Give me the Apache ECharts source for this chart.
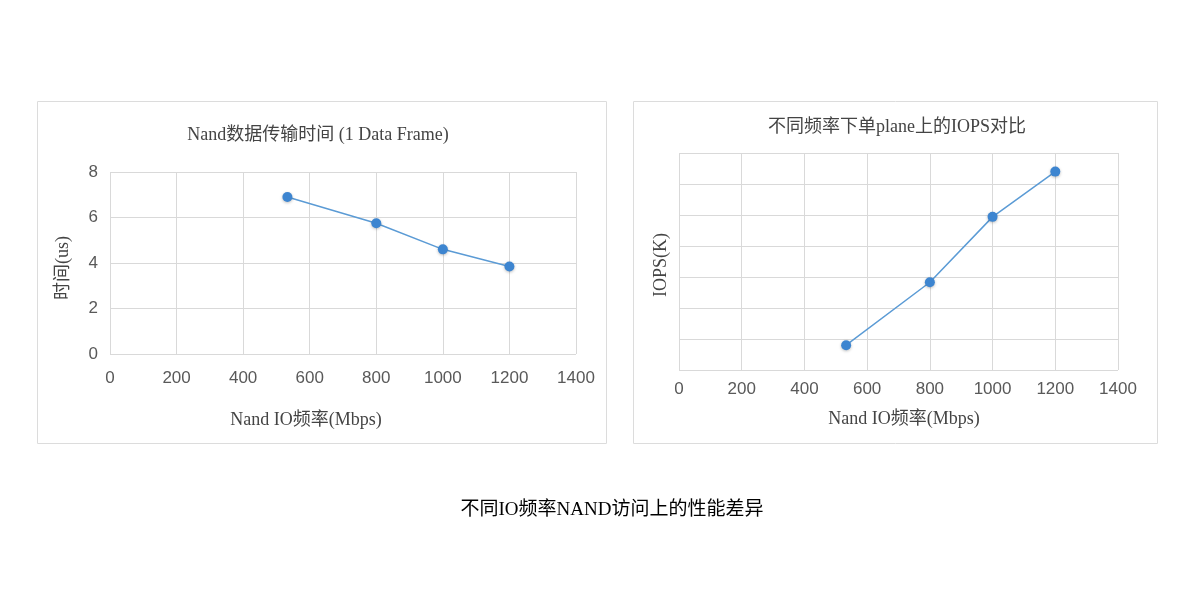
<!DOCTYPE html>
<html><head><meta charset="utf-8">
<script src="https://cdn.jsdelivr.net/npm/echarts@6/dist/echarts.min.js"></script>
<style>html,body{margin:0;padding:0;background:#fff}#c{width:1200px;height:590px}</style>
</head><body><div id="c"></div>
<script>
const freqs = [533, 800, 1000, 1200];
const timeUs = [6.9, 5.75, 4.6, 3.85];
const iopsK = [0.8, 2.83, 4.94, 6.4];
const xTicks = [0, 200, 400, 600, 800, 1000, 1200, 1400];
const leftTitle = 'Nand数据传输时间 (1 Data Frame)';
const rightTitle = '不同频率下单plane上的IOPS对比';
const xName = 'Nand IO频率(Mbps)';
const leftYName = '时间(us)';
const rightYName = 'IOPS(K)';
const caption = '不同IO频率NAND访问上的性能差异';

const serif = '"Liberation Serif", "Noto Sans CJK SC", serif';
const sans = '"Liberation Sans", Arial, sans-serif';
const gridColor = '#d9d9d9';
const lineColor = '#5b9bd5';
const dotColor = '#3d85d0';
const textGray = '#444';

const chart = echarts.init(document.getElementById('c'));
function xAxis(gridIndex, labelMargin) {
  return {
    gridIndex, type: 'value', min: 0, max: 1400, interval: 200,
    axisLine: { show: false }, axisTick: { show: false },
    splitLine: { show: true, lineStyle: { color: gridColor, width: 1 } },
    axisLabel: { color: '#595959', fontFamily: sans, fontSize: 17, margin: labelMargin,
      formatter: v => xTicks.includes(v) ? String(v) : '' }
  };
}
function txt(text, x, y, size, color, rot) {
  return { type: 'text', x, y, rotation: rot || 0,
    style: { text, fill: color, font: size + 'px ' + serif, align: 'center', verticalAlign: 'middle' } };
}
chart.setOption({
  animation: false,
  graphic: [
    { type: 'rect', shape: { x: 37.5, y: 101.5, width: 569, height: 342 }, style: { fill: 'none', stroke: '#dcdcdc', lineWidth: 1 } },
    { type: 'rect', shape: { x: 633.5, y: 101.5, width: 524, height: 342 }, style: { fill: 'none', stroke: '#dcdcdc', lineWidth: 1 } },
    txt(leftTitle, 318, 135, 18, textGray),
    txt(rightTitle, 897, 127, 18, textGray),
    txt(xName, 306, 420, 18, textGray),
    txt(xName, 904, 419, 18, textGray),
    txt(leftYName, 63, 268, 18, textGray, Math.PI / 2),
    txt(rightYName, 661, 265, 18, textGray, Math.PI / 2),
    txt(caption, 612, 510, 19, '#000')
  ],
  grid: [
    { left: 110, right: 624, top: 172, bottom: 236 },
    { left: 679, right: 82, top: 153, bottom: 220 }
  ],
  xAxis: [ xAxis(0, 16), xAxis(1, 11) ],
  yAxis: [
    { gridIndex: 0, type: 'value', min: 0, max: 8, interval: 2,
      axisLine: { show: false }, axisTick: { show: false },
      splitLine: { lineStyle: { color: gridColor } },
      axisLabel: { color: '#595959', fontFamily: sans, fontSize: 17, margin: 12 } },
    { gridIndex: 1, type: 'value', min: 0, max: 7, interval: 1,
      axisLine: { show: false }, axisTick: { show: false },
      splitLine: { lineStyle: { color: gridColor } },
      axisLabel: { show: false } }
  ],
  series: [
    { type: 'line', xAxisIndex: 0, yAxisIndex: 0,
      data: freqs.map((f, i) => [f, timeUs[i]]),
      symbol: 'circle', symbolSize: 10,
      itemStyle: { color: dotColor, shadowBlur: 3, shadowColor: 'rgba(0,0,0,0.25)', shadowOffsetY: 1 },
      lineStyle: { color: lineColor, width: 1.5 } },
    { type: 'line', xAxisIndex: 1, yAxisIndex: 1,
      data: freqs.map((f, i) => [f, iopsK[i]]),
      symbol: 'circle', symbolSize: 10,
      itemStyle: { color: dotColor, shadowBlur: 3, shadowColor: 'rgba(0,0,0,0.25)', shadowOffsetY: 1 },
      lineStyle: { color: lineColor, width: 1.5 } }
  ]
});
</script></body></html>
